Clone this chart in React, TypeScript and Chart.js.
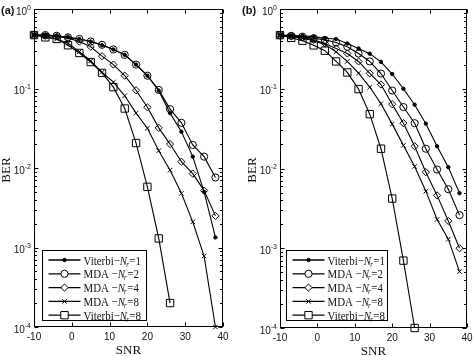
import React, { useEffect, useRef } from 'react';
import { Chart, registerables } from 'chart.js';

Chart.register(...registerables);

// ---------- data ----------
const snr = [-10, -7, -4, -1, 2, 5, 8, 11, 14, 17, 20, 23, 26, 29, 32, 35, 38];
const xTicks = [-10, 0, 10, 20, 30, 40];
const yExponents = [0, -1, -2, -3, -4];
const legendPrefix = ['Viterbi−', 'MDA −', 'MDA −', 'MDA −', 'Viterbi−'];
const legendNr = ['1', '2', '4', '8', '8'];

// Panel (a)
const viterbi1A = [0.47, 0.47, 0.46, 0.44, 0.42, 0.39, 0.35, 0.31, 0.265, 0.2, 0.145, 0.094, 0.049, 0.0286, 0.0139, 0.005, 0.00134];
const mda2A = [0.47, 0.47, 0.46, 0.44, 0.42, 0.39, 0.355, 0.31, 0.265, 0.2, 0.145, 0.096, 0.055, 0.037, 0.0195, 0.0139, 0.0076];
const mda4A = [0.47, 0.46, 0.45, 0.43, 0.39, 0.335, 0.255, 0.2, 0.145, 0.095, 0.058, 0.032, 0.02, 0.012, 0.0085, 0.0052, 0.0025];
const mda8A = [0.47, 0.45, 0.42, 0.37, 0.29, 0.222, 0.16, 0.12, 0.081, 0.049, 0.0316, 0.0165, 0.0094, 0.0048, 0.0021, 0.00078, 0.0001];
const viterbi8A = [0.47, 0.44, 0.42, 0.35, 0.28, 0.215, 0.157, 0.104, 0.056, 0.0206, 0.0058, 0.0013, 0.0002];

// Panel (b)
const viterbi1B = [0.47, 0.46, 0.46, 0.45, 0.43, 0.42, 0.37, 0.32, 0.275, 0.217, 0.153, 0.1, 0.063, 0.0365, 0.019, 0.0104, 0.0049];
const mda2B = [0.47, 0.46, 0.45, 0.43, 0.41, 0.38, 0.336, 0.277, 0.22, 0.155, 0.095, 0.059, 0.037, 0.0177, 0.0097, 0.0055, 0.0026];
const mda4B = [0.47, 0.46, 0.44, 0.41, 0.37, 0.32, 0.277, 0.22, 0.156, 0.113, 0.064, 0.037, 0.019, 0.009, 0.0046, 0.0022, 0.001];
const mda8B = [0.47, 0.45, 0.43, 0.4, 0.36, 0.29, 0.22, 0.157, 0.105, 0.065, 0.036, 0.0195, 0.0106, 0.0052, 0.0023, 0.0013, 0.00051];
const viterbi8B = [0.47, 0.435, 0.4, 0.35, 0.3, 0.22, 0.16, 0.099, 0.048, 0.0177, 0.0042, 0.0007, 0.0001];

// ---------- styles ----------
const markers = [
  { style: 'circle', r: 1.7, fill: true },
  { style: 'circle', r: 3.6, fill: false },
  { style: 'rectRot', r: 3.6, fill: false },
  { style: 'crossRot', r: 3.2, fill: false },
  { style: 'rect', r: 5.2, fill: false },
];

type PanelCfg = {
  tag: string;
  left: number;
  yAxisW: number;
  padRight: number;
  xAxisH: number;
  legendW: number;
  series: number[][];
};

const panels: PanelCfg[] = [
  { tag: '(a)', left: 0, yAxisW: 34, padRight: 14, xAxisH: 29, legendW: 104, series: [viterbi1A, mda2A, mda4A, mda8A, viterbi8A] },
  { tag: '(b)', left: 237, yAxisW: 43, padRight: 7, xAxisH: 28, legendW: 101, series: [viterbi1B, mda2B, mda4B, mda8B, viterbi8B] },
];

const SERIF = '"Liberation Serif", "Times New Roman", serif';
const SANS = '"Liberation Sans", Arial, sans-serif';

function drawMarker(ctx: CanvasRenderingContext2D, style: string, x: number, y: number, r: number, fill: boolean) {
  ctx.beginPath();
  if (style === 'circle') {
    ctx.arc(x, y, r, 0, Math.PI * 2);
  } else if (style === 'rect') {
    const s = r * Math.SQRT1_2;
    ctx.rect(x - s, y - s, 2 * s, 2 * s);
  } else if (style === 'rectRot') {
    ctx.moveTo(x - r, y);
    ctx.lineTo(x, y - r);
    ctx.lineTo(x + r, y);
    ctx.lineTo(x, y + r);
    ctx.closePath();
  } else if (style === 'crossRot') {
    const s = r * Math.SQRT1_2;
    ctx.moveTo(x - s, y - s);
    ctx.lineTo(x + s, y + s);
    ctx.moveTo(x + s, y - s);
    ctx.lineTo(x - s, y + s);
  }
  if (style !== 'crossRot') {
    ctx.fillStyle = fill ? '#000' : '#fff';
    ctx.fill();
  }
  ctx.stroke();
}

function makePlugin(cfg: PanelCfg) {
  return {
    id: 'matlabDecor',
    afterDraw(chart: any) {
      const ctx: CanvasRenderingContext2D = chart.ctx;
      const { left, right, top, bottom } = chart.chartArea;
      const xs = chart.scales.x;
      const ys = chart.scales.y;
      const L = Math.round(left) + 0.5;
      const R = Math.round(right) - 0.5;
      const T = Math.round(top) + 0.5;
      const B = Math.round(bottom) - 0.5;
      ctx.save();
      ctx.strokeStyle = '#000';
      ctx.lineWidth = 1;
      ctx.strokeRect(L, T, R - L, B - T);

      // y ticks (major + minor), inward on both sides
      ctx.beginPath();
      for (let e = -4; e <= 0; e++) {
        const py = Math.round(ys.getPixelForValue(Math.pow(10, e))) + 0.5;
        ctx.moveTo(L, py); ctx.lineTo(L + 4, py);
        ctx.moveTo(R, py); ctx.lineTo(R - 4, py);
        if (e < 0) {
          for (let m = 2; m <= 9; m++) {
            const pm = Math.round(ys.getPixelForValue(m * Math.pow(10, e))) + 0.5;
            ctx.moveTo(L, pm); ctx.lineTo(L + 2.5, pm);
            ctx.moveTo(R, pm); ctx.lineTo(R - 2.5, pm);
          }
        }
      }
      // x ticks inward top & bottom
      xTicks.forEach((v) => {
        const px = Math.round(xs.getPixelForValue(v)) + 0.5;
        ctx.moveTo(px, B); ctx.lineTo(px, B - 4);
        ctx.moveTo(px, T); ctx.lineTo(px, T + 4);
      });
      ctx.stroke();

      // x tick labels
      ctx.fillStyle = '#111';
      ctx.font = '10px ' + SANS;
      ctx.textAlign = 'center';
      ctx.textBaseline = 'alphabetic';
      xTicks.forEach((v) => {
        ctx.fillText(String(v), xs.getPixelForValue(v), bottom + 13);
      });

      // y decade labels 10^e
      yExponents.forEach((e) => {
        const py = ys.getPixelForValue(Math.pow(10, e));
        const expTxt = String(e);
        ctx.font = '7px ' + SANS;
        const ew = ctx.measureText(expTxt).width;
        ctx.textAlign = 'left';
        const xEnd = left - 3;
        ctx.fillText(expTxt, xEnd - ew, py + 0.5);
        ctx.font = '10px ' + SANS;
        const bw = ctx.measureText('10').width;
        ctx.fillText('10', xEnd - ew - bw, py + 5.5);
      });

      // axis titles
      ctx.font = '13px ' + SERIF;
      ctx.textAlign = 'center';
      ctx.fillText('SNR', (left + right) / 2, bottom + 27);
      ctx.save();
      ctx.translate(cfg.left === 0 ? 7 : 16, 170);
      ctx.rotate(-Math.PI / 2);
      ctx.textBaseline = 'middle';
      ctx.fillText('BER', 0, 0);
      ctx.restore();

      // panel tag
      ctx.font = 'bold 11px ' + SANS;
      ctx.textAlign = 'left';
      ctx.fillText(cfg.tag, cfg.left === 0 ? 1 : 5, 14);

      // legend
      const lx = Math.round(left) + 8 - (cfg.left === 0 ? 0 : 2) + 0.5;
      const ly = 250.5;
      const lh = 70;
      ctx.fillStyle = '#fff';
      ctx.fillRect(lx, ly, cfg.legendW, lh);
      ctx.strokeRect(lx, ly, cfg.legendW, lh);
      for (let i = 0; i < 5; i++) {
        const ry = ly + 9.5 + i * 13.8;
        ctx.strokeStyle = '#000';
        ctx.lineWidth = 1.3;
        ctx.beginPath();
        ctx.moveTo(lx + 6, ry);
        ctx.lineTo(lx + 38, ry);
        ctx.stroke();
        ctx.lineWidth = 1;
        const mk = markers[i];
        drawMarker(ctx, mk.style, lx + 22, ry, mk.r, mk.fill);
        // text (narrow Times look)
        ctx.save();
        ctx.fillStyle = '#111';
        ctx.textAlign = 'left';
        const base = ry + 4.5;
        const sx = 0.87;
        ctx.translate(lx + 41, base);
        ctx.scale(sx, 1);
        let tx = 0;
        ctx.font = '12.5px ' + SERIF;
        ctx.fillText(legendPrefix[i], tx, 0);
        tx += ctx.measureText(legendPrefix[i]).width;
        ctx.font = 'italic 12.5px ' + SERIF;
        ctx.fillText('N', tx, 0);
        tx += ctx.measureText('N').width - 1;
        ctx.font = 'italic 8px ' + SERIF;
        ctx.fillText('r', tx, 2);
        tx += ctx.measureText('r').width + 0.5;
        ctx.font = '12.5px ' + SERIF;
        ctx.fillText('=' + legendNr[i], tx, 0);
        ctx.restore();
      }
      ctx.restore();
    },
  };
}

function Panel({ cfg }: { cfg: PanelCfg }) {
  const ref = useRef<HTMLCanvasElement>(null);
  useEffect(() => {
    const datasets = cfg.series.map((arr, i) => {
      const mk = markers[i];
      return {
        label: legendPrefix[i] + 'Nr=' + legendNr[i],
        data: arr.map((v, j) => ({ x: snr[j], y: v })),
        borderColor: '#000',
        borderWidth: 1.1,
        pointStyle: mk.style,
        pointRadius: mk.r,
        pointBorderWidth: 1,
        pointBorderColor: '#000',
        pointBackgroundColor: mk.fill ? '#000' : 'rgba(0,0,0,0)',
        tension: 0,
        clip: 6,
      };
    });
    const chart = new Chart(ref.current as HTMLCanvasElement, {
      type: 'line',
      data: { datasets } as any,
      options: {
        animation: false,
        responsive: false,
        devicePixelRatio: 1,
        layout: { padding: { left: 0, right: cfg.padRight, top: 9, bottom: 0 } },
        plugins: { legend: { display: false }, tooltip: { enabled: false } },
        scales: {
          x: {
            type: 'linear', min: -10, max: 40,
            ticks: { display: false }, grid: { display: false }, border: { display: false },
            afterFit: (s: any) => { s.height = cfg.xAxisH; },
          },
          y: {
            type: 'logarithmic', min: 1e-4, max: 1,
            ticks: { display: false }, grid: { display: false }, border: { display: false },
            afterFit: (s: any) => { s.width = cfg.yAxisW; },
          },
        },
      } as any,
      plugins: [makePlugin(cfg)],
    });
    return () => chart.destroy();
  }, [cfg]);
  return (
    <canvas
      ref={ref}
      width={237}
      height={356}
      style={{ position: 'absolute', left: cfg.left, top: 0, width: 237, height: 356 }}
    />
  );
}

export default function App() {
  return (
    <div style={{ position: 'fixed', left: 0, top: 0, width: 474, height: 356, background: '#fff', overflow: 'hidden' }}>
      {panels.map((p) => (
        <Panel key={p.tag} cfg={p} />
      ))}
    </div>
  );
}
